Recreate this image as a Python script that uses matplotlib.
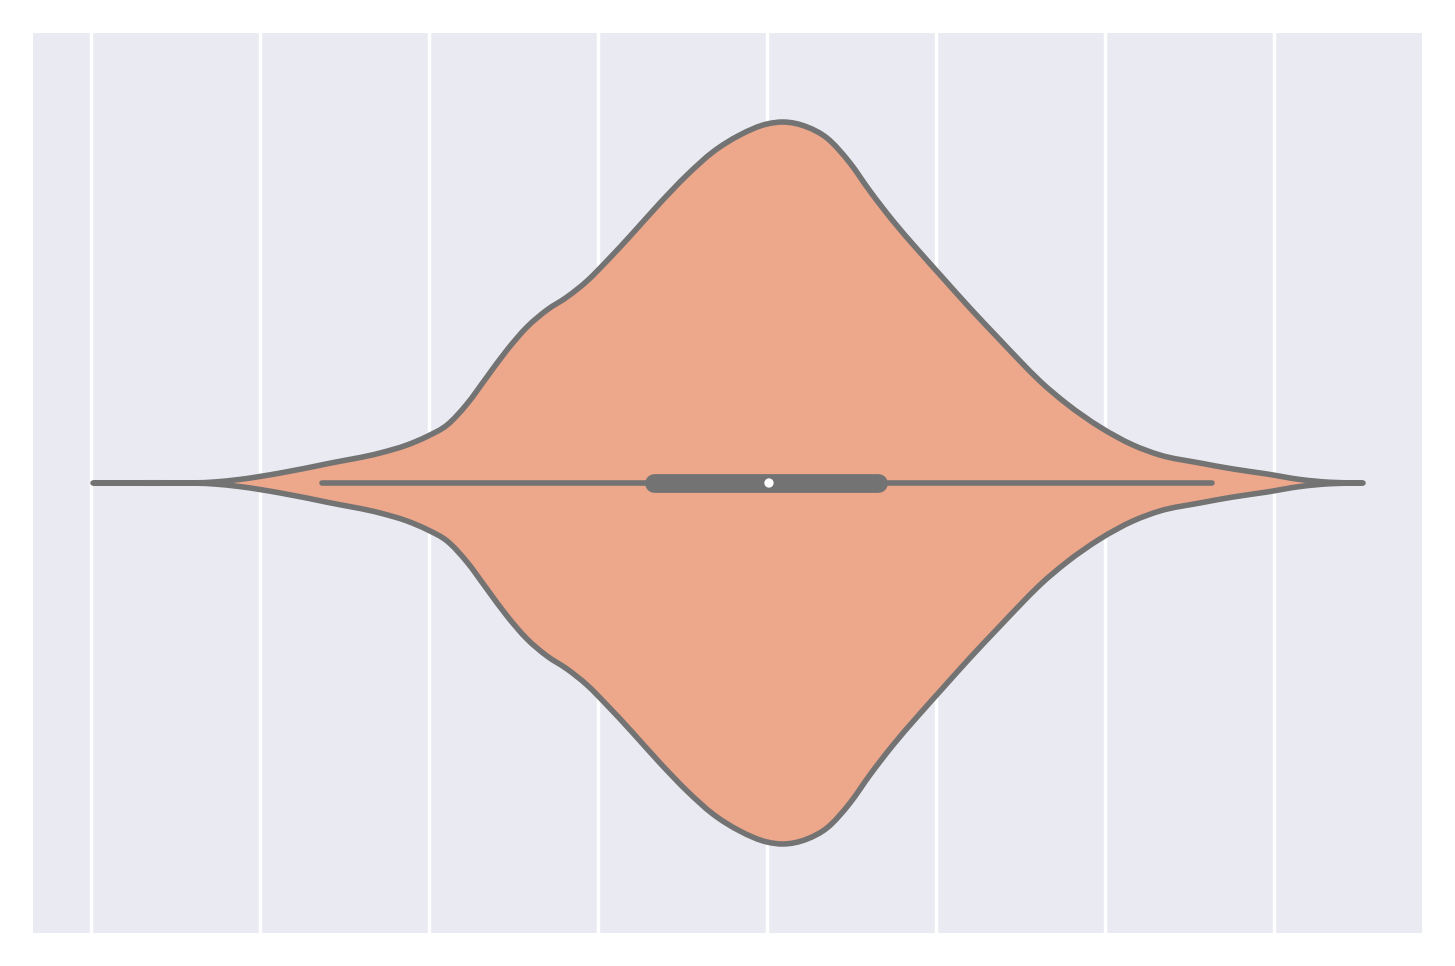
import matplotlib
matplotlib.use("Agg")
import matplotlib.pyplot as plt
from matplotlib.path import Path
from matplotlib.patches import PathPatch
import numpy as np

# density profile of the violin (value, half-width in axis units)
values = [-3.988, -3.651, -3.278, -3.118, -2.882, -2.586, -2.290, -2.130, -2.006,
          -1.893, -1.775, -1.657, -1.538, -1.420, -1.302, -1.183, -1.065, -0.947,
          -0.793, -0.633, -0.473, -0.320, -0.160, 0.000, 0.095, 0.237, 0.355,
          0.491, 0.609, 0.746, 0.888, 1.041, 1.201, 1.379, 1.497, 1.615, 1.775,
          1.970, 2.166, 2.325, 2.562, 2.757, 2.959, 3.154, 3.331, 3.527]
half_width = [0.0, 0.0003, 0.001, 0.004, 0.011, 0.022, 0.0333, 0.0422, 0.0522,
              0.0644, 0.0878, 0.1178, 0.1478, 0.1733, 0.1922, 0.2067, 0.2244, 0.2467,
              0.2778, 0.3111, 0.3422, 0.3678, 0.3867, 0.3989, 0.4011, 0.3956, 0.3833,
              0.3556, 0.3244, 0.2911, 0.2600, 0.2278, 0.1944, 0.1589, 0.1356, 0.1133,
              0.0878, 0.0622, 0.0422, 0.0311, 0.0222, 0.0156, 0.0100, 0.0039, 0.0008, 0.0]

# box summary
whisker_low, whisker_high = -2.633, 2.633
q1, q3 = -0.669, 0.657
median = 0.012

fill_color = "#EDA78B"
line_color = "#737373"


def slopes(x, y):
    h = np.diff(x)
    d = np.diff(y) / h
    m = np.empty_like(y)
    m[0], m[-1] = d[0], d[-1]
    m[1:-1] = (h[:-1] * d[1:] + h[1:] * d[:-1]) / (h[:-1] + h[1:])
    return m


def violin_path(x, w):
    # smooth bezier outline through the read points, top then mirrored bottom
    m = slopes(x, w)
    h = np.diff(x)
    verts = [(x[0], w[0])]
    codes = [Path.MOVETO]
    for i in range(len(x) - 1):
        verts += [(x[i] + h[i] / 3, w[i] + m[i] * h[i] / 3),
                  (x[i + 1] - h[i] / 3, w[i + 1] - m[i + 1] * h[i] / 3),
                  (x[i + 1], w[i + 1])]
        codes += [Path.CURVE4] * 3
    for i in range(len(x) - 1, 0, -1):
        verts += [(x[i] - h[i - 1] / 3, -(w[i] - m[i] * h[i - 1] / 3)),
                  (x[i - 1] + h[i - 1] / 3, -(w[i - 1] + m[i - 1] * h[i - 1] / 3)),
                  (x[i - 1], -w[i - 1])]
        codes += [Path.CURVE4] * 3
    verts.append((x[0], w[0]))
    codes.append(Path.CLOSEPOLY)
    return Path(verts, codes)


fig = plt.figure(figsize=(14.55, 9.66), dpi=100)
ax = fig.add_axes([33 / 1455, 1 - 933 / 966, (1422 - 33) / 1455, 900 / 966])
ax.set_facecolor("#EAEAF2")
for s in ax.spines.values():
    s.set_visible(False)

x = np.array(values)
w = np.array(half_width)
violin = PathPatch(violin_path(x, w), facecolor=fill_color,
                   edgecolor=line_color, lw=4, joinstyle="round", zorder=3)
ax.add_patch(violin)

# inner box
ax.plot([whisker_low, whisker_high], [0, 0], color=line_color, lw=4,
        solid_capstyle="round", zorder=4)
ax.plot([q1, q3], [0, 0], color=line_color, lw=13.5, solid_capstyle="round", zorder=5)
ax.scatter([median], [0], s=45, color="white", edgecolor="none", zorder=6)

ax.set_xlim(-4.343, 3.876)
ax.set_ylim(0.5, -0.5)
ax.set_xticks(np.arange(-4, 4))
ax.set_yticks([])
ax.tick_params(length=0, labelbottom=False)
ax.grid(axis="x", color="white", lw=2.5, zorder=0)
ax.set_axisbelow(True)

fig.savefig("out.png", dpi=100)
